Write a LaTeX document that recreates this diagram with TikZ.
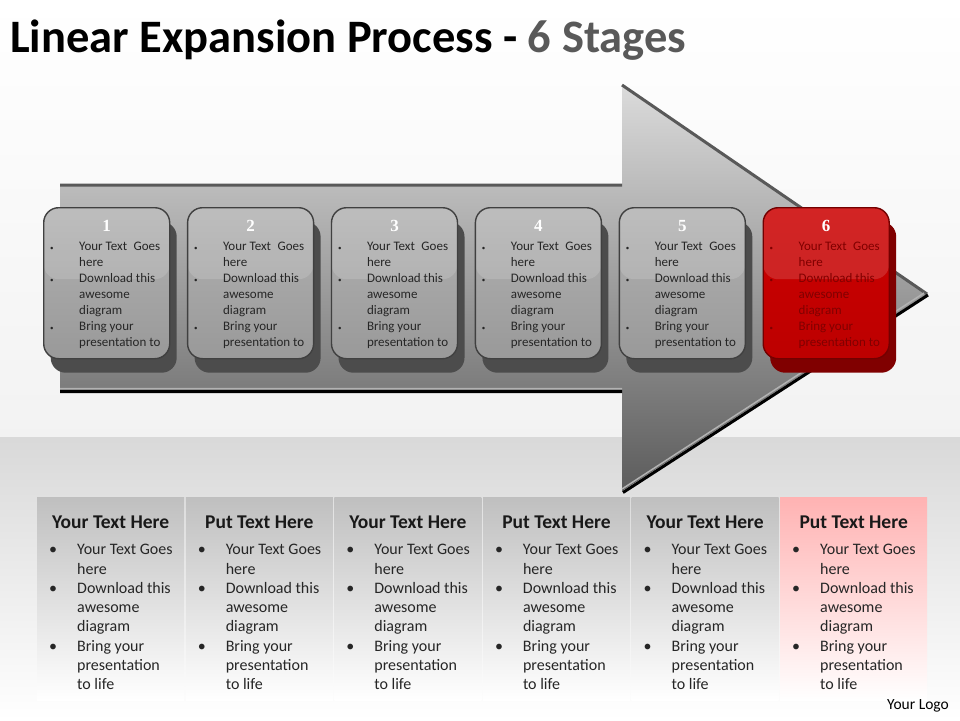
\documentclass[tikz,border=0pt]{standalone}
\usepackage{fontspec}
\setmainfont{Carlito}
\newfontfamily\numfont{Liberation Serif}
\usetikzlibrary{positioning,shadows}
\tikzset{
  card/.style  ={draw=black!75, line width=1.4pt, rounded corners=15pt,
                 minimum width=126pt, minimum height=151pt, inner sep=0pt,
                 top color=black!30, bottom color=black!40,
                 drop shadow={shadow xshift=7pt, shadow yshift=-14pt, fill=#1, opacity=1},
                 path picture={\fill[white, opacity=.14] (path picture bounding box.north west)
                   rectangle ([yshift=4pt]path picture bounding box.east);}},
  card/.default=black!70,
  hot/.style   ={card=red!50!black, draw=red!45!black,
                 top color=red!80!black, bottom color=red!74!black},
  num/.style   ={font=\numfont\bfseries\fontsize{17}{17}\selectfont, text=white, inner sep=0pt},
  ctxt/.style  ={anchor=north west, inner sep=0pt, font=\fontsize{13}{16}\selectfont, text=black!85},
  col/.style   ={anchor=north west, minimum width=147pt, minimum height=203pt, inner sep=0pt,
                 top color=black!25, bottom color=white},
  pink/.style  ={col, top color=red!30},
  head/.style  ={font=\fontsize{19.5}{20}\selectfont\bfseries, text=black!90},
  btxt/.style  ={anchor=north west, inner sep=0pt, font=\fontsize{16}{19.3}\selectfont, text=black!85},
  ttl/.style   ={anchor=base west, inner sep=0pt, font=\fontsize{46.5}{48}\selectfont\bfseries}
}
\newcommand{\sqb}{{\fontsize{7}{7}\selectfont\textbullet}}
\newcommand{\cardlines}{%
  \begin{tabular}{@{}p{29pt}@{}l@{}}
  \sqb & Your Text\enspace Goes\\ & here\\
  \sqb & Download this\\ & awesome\\ & diagram\\
  \sqb & Bring your\\ & presentation to
  \end{tabular}}
\newcommand{\boxlines}{%
  \begin{tabular}{@{}p{28pt}@{}l@{}}
  \textbullet & Your Text Goes\\ & here\\
  \textbullet & Download this\\ & awesome\\ & diagram\\
  \textbullet & Bring your\\ & presentation\\ & to life
  \end{tabular}}

\begin{document}
\begin{tikzpicture}[x=1pt, y=-1pt, node distance=16.5pt]
  \useasboundingbox (0,0) rectangle (960,720);
  \fill[top color=white, bottom color=black!5] (0,0) rectangle (960,437);
  \fill[top color=black!15, middle color=black!12, bottom color=white] (0,437) rectangle (960,720);

  \node[ttl] (title) at (10,52) {Linear Expansion Process - \textcolor{black!65}{6 Stages}};

  % big arrow behind the cards
  \shade[top color=black!14, middle color=black!28, bottom color=black!64]
    (60,185) -- (622,185) -- (622,85) -- (927,294) -- (622,491) -- (622,390) -- (60,390) -- cycle;
  \draw[black!65, line width=3pt] (60,185) -- (622,185) (622,85) -- (927,294);
  \draw[black!30, line width=1.5pt] (60,388.5) -- (622,388.5) (622,489) -- (924,293);
  \draw[line width=3pt] (60,391.5) -- (622,391.5) (623,492.5) -- (928,295);

  \node[card, anchor=north west] (c1) at (43,207) {};
  \node[card, right=of c1] (c2) {};
  \node[card, right=of c2] (c3) {};
  \node[card, right=of c3] (c4) {};
  \node[card, right=of c4] (c5) {};
  \node[hot,  right=of c5] (c6) {};

  \node[num] (n1) at ([yshift=-19pt]c1.north) {1};
  \node[num] (n2) at ([yshift=-19pt]c2.north) {2};
  \node[num] (n3) at ([yshift=-19pt]c3.north) {3};
  \node[num] (n4) at ([yshift=-19pt]c4.north) {4};
  \node[num] (n5) at ([yshift=-19pt]c5.north) {5};
  \node[num] (n6) at ([yshift=-19pt]c6.north) {6};

  \node[ctxt] (t1) at ([xshift=7pt, yshift=-32pt]c1.north west) {\cardlines};
  \node[ctxt] (t2) at ([xshift=7pt, yshift=-32pt]c2.north west) {\cardlines};
  \node[ctxt] (t3) at ([xshift=7pt, yshift=-32pt]c3.north west) {\cardlines};
  \node[ctxt] (t4) at ([xshift=7pt, yshift=-32pt]c4.north west) {\cardlines};
  \node[ctxt] (t5) at ([xshift=7pt, yshift=-32pt]c5.north west) {\cardlines};
  \node[ctxt, text=red!50!black] (t6) at ([xshift=7pt, yshift=-32pt]c6.north west) {\cardlines};

  % lower text columns
  \node[col] (b1) at (37,497) {};
  \node[col,  right=1.2pt of b1] (b2) {};
  \node[col,  right=1.2pt of b2] (b3) {};
  \node[col,  right=1.2pt of b3] (b4) {};
  \node[col,  right=1.2pt of b4] (b5) {};
  \node[pink, right=1.2pt of b5] (b6) {};

  \node[head] (h1) at ([yshift=-25pt]b1.north) {Your Text Here};
  \node[head] (h2) at ([yshift=-25pt]b2.north) {Put Text Here};
  \node[head] (h3) at ([yshift=-25pt]b3.north) {Your Text Here};
  \node[head] (h4) at ([yshift=-25pt]b4.north) {Put Text Here};
  \node[head] (h5) at ([yshift=-25pt]b5.north) {Your Text Here};
  \node[head] (h6) at ([yshift=-25pt]b6.north) {Put Text Here};

  \node[btxt] (l1) at ([xshift=12pt, yshift=-44pt]b1.north west) {\boxlines};
  \node[btxt] (l2) at ([xshift=12pt, yshift=-44pt]b2.north west) {\boxlines};
  \node[btxt] (l3) at ([xshift=12pt, yshift=-44pt]b3.north west) {\boxlines};
  \node[btxt] (l4) at ([xshift=12pt, yshift=-44pt]b4.north west) {\boxlines};
  \node[btxt] (l5) at ([xshift=12pt, yshift=-44pt]b5.north west) {\boxlines};
  \node[btxt] (l6) at ([xshift=12pt, yshift=-44pt]b6.north west) {\boxlines};

  \node[font=\fontsize{15.5}{16}\selectfont] (logo) at (918,706) {Your Logo};
\end{tikzpicture}
\end{document}
